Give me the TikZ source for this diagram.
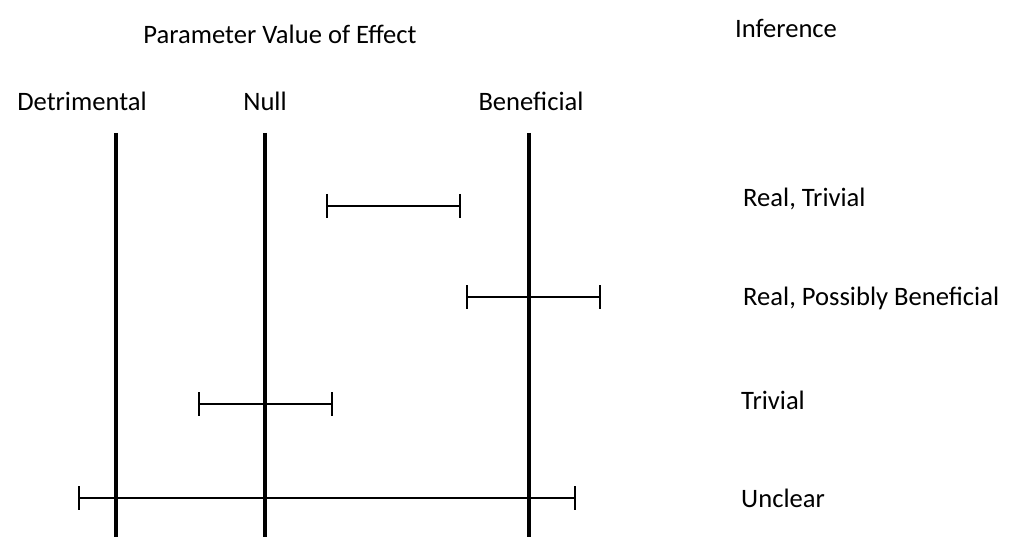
\documentclass[tikz,border=0pt]{standalone}
\usepackage{fontspec}
\setmainfont{Carlito}
\begin{document}
\begin{tikzpicture}[x=1pt,y=-1pt,
  lbl/.style={font=\fontsize{26.6}{30}\selectfont,inner sep=0pt},
  rlbl/.style={lbl,anchor=west},
  axis/.style={line width=4pt},
  ci/.style={line width=2.5pt}]
\useasboundingbox (0,0) rectangle (1022,537);
\fill[white] (0,0) rectangle (1022,537);
\node[lbl] (title) at (280,34) {Parameter Value of Effect};
\node[lbl] (inf) at (786,28) {Inference};
\node[lbl] (det) at (82,101) {Detrimental};
\node[lbl] (nul) at (265,101) {Null};
\node[lbl] (ben) at (531,101) {Beneficial};
\coordinate (d1) at (116,133); \coordinate (d2) at (116,537);
\coordinate (n1) at (265,133); \coordinate (n2) at (265,537);
\coordinate (b1) at (529,133); \coordinate (b2) at (529,537);
\draw[axis] (d1) -- (d2);
\draw[axis] (n1) -- (n2);
\draw[axis] (b1) -- (b2);
\newcommand{\myci}[3]{%
  \draw[ci] (#1,#3) -- (#2,#3);
  \draw[ci] (#1,#3-12) -- (#1,#3+12);
  \draw[ci] (#2,#3-12) -- (#2,#3+12);}
\myci{327}{460}{206}
\myci{467}{600}{297}
\myci{199}{332}{404}
\myci{79}{575}{498}
\node[rlbl] (r1) at (743,199) {Real, Trivial};
\node[rlbl] (r2) at (743,298) {Real, Possibly Beneficial};
\node[rlbl] (r3) at (741,400) {Trivial};
\node[rlbl] (r4) at (741,498) {Unclear};
\end{tikzpicture}
\end{document}
